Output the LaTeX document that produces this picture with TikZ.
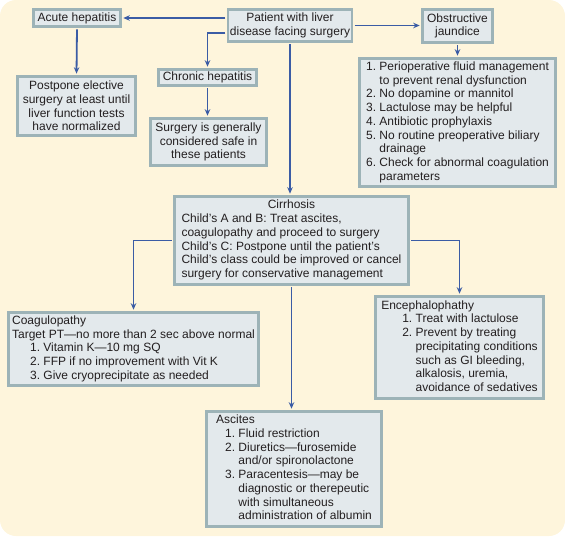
\documentclass[tikz,border=0pt]{standalone}
\usepackage{fontspec}
\setmainfont{Liberation Sans}
\usetikzlibrary{arrows.meta, positioning, calc}
\definecolor{bgcream}{HTML}{FEF5DC}
\definecolor{boxfill}{HTML}{E3E9EC}
\definecolor{boxline}{HTML}{9DB3B7}
\definecolor{arrowblue}{HTML}{3B5CA5}
\definecolor{inktext}{HTML}{231F20}

\begin{document}
\begin{tikzpicture}[x=1pt, y=-1pt,
    box/.style={draw=boxline, line width=2.6pt, fill=boxfill, inner sep=2pt,
      text=inktext, font=\fontsize{12}{13.75}\selectfont},
    arr/.style={draw=arrowblue, line width=1.8pt, shorten >=1.3pt, shorten <=1.3pt,
      -{Stealth[length=6.5pt, width=5.5pt]}}]

  % background
  \fill[bgcream, rounded corners=16pt] (0,0) rectangle (565,536);
  \useasboundingbox (0,0) rectangle (565,536);

  % top row
  \node[box, minimum width=87.4pt, minimum height=17.4pt] (acute) at (77,18) {Acute hepatitis};
  \node[box, align=center, minimum width=123.4pt, minimum height=32.4pt] (patient) at (290,25.5)
    {Patient with liver\\disease facing surgery};
  \node[box, align=center, minimum width=70.4pt, minimum height=33.4pt] (obstr) at (457.5,26)
    {Obstructive\\jaundice};

  % hepatitis branches
  \node[box, align=center, minimum width=118.4pt, minimum height=59.4pt] (postpone) at (76.5,106)
    {Postpone elective\\surgery at least until\\liver function tests\\have normalized};
  \node[box, minimum width=98.4pt, minimum height=16.4pt] (chronic) at (207.5,77.5) {Chronic hepatitis};
  \node[box, align=center, minimum width=116.4pt, minimum height=47.4pt] (surgery) at (208.5,142)
    {Surgery is generally\\considered safe in\\these patients};

  % jaundice measures
  \node[box, minimum width=196.4pt, minimum height=128.4pt] (olist) at (457.5,122.5) {%
    \begin{tabular}{@{}r@{\ }l@{}}
      1. & Perioperative fluid management\\
         & to prevent renal dysfunction\\
      2. & No dopamine or mannitol\\
      3. & Lactulose may be helpful\\
      4. & Antibiotic prophylaxis\\
      5. & No routine preoperative biliary\\
         & drainage\\
      6. & Check for abnormal coagulation\\
         & parameters
    \end{tabular}};

  % cirrhosis
  \node[box, minimum width=234.4pt, minimum height=88.4pt] (cirr) at (291.5,240.5) {%
    \begin{tabular}{@{}l@{}}
      \multicolumn{1}{@{}c@{}}{Cirrhosis}\\
      Child's A and B: Treat ascites,\\
      coagulopathy and proceed to surgery\\
      Child's C: Postpone until the patient's\\
      Child's class could be improved or cancel\\
      surgery for conservative management
    \end{tabular}};

  \node[box, minimum width=250.4pt, minimum height=73.4pt] (coag) at (133.5,349) {%
    \begin{tabular}{@{\hspace{18pt}}r@{\ }l@{}}
      \multicolumn{2}{@{}l@{}}{Coagulopathy}\\
      \multicolumn{2}{@{}l@{}}{Target PT---no more than 2 sec above normal}\\
      1. & Vitamin K---10 mg SQ\\
      2. & FFP if no improvement with Vit K\\
      3. & Give cryoprecipitate as needed
    \end{tabular}};

  \node[box, minimum width=168.4pt, minimum height=102.4pt] (enceph) at (459.5,347.5) {%
    \begin{tabular}{@{\hspace{21pt}}r@{\ }l@{}}
      \multicolumn{2}{@{}l@{}}{Encephalophathy}\\
      1. & Treat with lactulose\\
      2. & Prevent by treating\\
         & precipitating conditions\\
         & such as GI bleeding,\\
         & alkalosis, uremia,\\
         & avoidance of sedatives
    \end{tabular}};

  \node[box, minimum width=175.4pt, minimum height=115.4pt] (asc) at (294,469) {%
    \begin{tabular}{@{\hspace{9pt}}r@{\ }l@{}}
      \multicolumn{2}{@{}l@{}}{Ascites}\\
      1. & Fluid restriction\\
      2. & Diuretics---furosemide\\
         & and/or spironolactone\\
      3. & Paracentesis---may be\\
         & diagnostic or therepeutic\\
         & with simultaneous\\
         & administration of albumin
    \end{tabular}};

  % connectors
  \draw[arr] (patient.west |- acute.east) -- (acute.east);
  \draw[arr] ([yshift=-7.5pt]patient.west) -| (chronic.north);
  \draw[arr] (patient.east) -- (patient.east -| obstr.west);
  \draw[arr] (obstr.south) -- (olist.north);
  \draw[arr] (acute.south) -- (postpone.north);
  \draw[arr] (chronic.south) -- (chronic.south |- surgery.north);
  \draw[arr] (patient.south) -- (patient.south |- cirr.north);
  \draw[arr] (cirr.west) -| (coag.north);
  \draw[arr] (cirr.east) -| (enceph.north);
  \draw[arr] (cirr.south) -- (cirr.south |- asc.north);
\end{tikzpicture}
\end{document}
